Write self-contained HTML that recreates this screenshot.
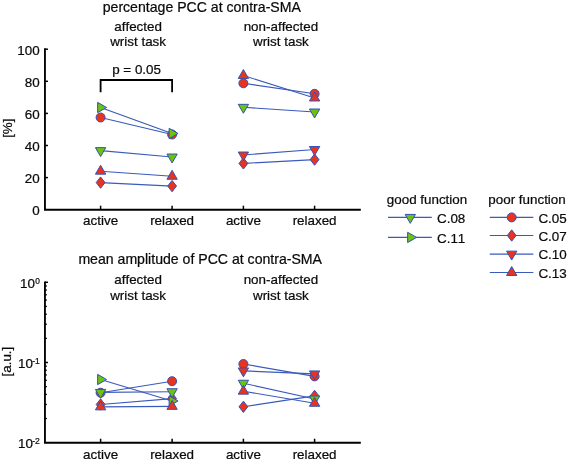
<!DOCTYPE html>
<html><head><meta charset="utf-8"><title>PCC at contra-SMA</title>
<style>
html,body{margin:0;padding:0;background:#fff;}
svg{display:block;font-family:"Liberation Sans",Arial,Helvetica,sans-serif;fill:#111;}
svg text{fill:#0a0a0a;stroke:#0a0a0a;stroke-width:0.22px;font-kerning:none;}
</style></head><body>
<svg width="568" height="463" viewBox="0 0 568 463">
<rect width="568" height="463" fill="#fff"/>
<path d="M44.95,48.2 V209.7 H360.8" fill="none" stroke="#000" stroke-width="1.85" stroke-linejoin="miter"/>
<line x1="100.60" y1="209.70" x2="100.60" y2="205.70" stroke="#000" stroke-width="1.5"/>
<line x1="172.10" y1="209.70" x2="172.10" y2="205.70" stroke="#000" stroke-width="1.5"/>
<line x1="243.40" y1="209.70" x2="243.40" y2="205.70" stroke="#000" stroke-width="1.5"/>
<line x1="314.60" y1="209.70" x2="314.60" y2="205.70" stroke="#000" stroke-width="1.5"/>
<text x="39.60" y="215.10" text-anchor="end" font-size="13.4" >0</text>
<line x1="44.95" y1="177.60" x2="47.95" y2="177.60" stroke="#000" stroke-width="1.5"/>
<text x="39.60" y="183.00" text-anchor="end" font-size="13.4" >20</text>
<line x1="44.95" y1="145.50" x2="47.95" y2="145.50" stroke="#000" stroke-width="1.5"/>
<text x="39.60" y="150.90" text-anchor="end" font-size="13.4" >40</text>
<line x1="44.95" y1="113.40" x2="47.95" y2="113.40" stroke="#000" stroke-width="1.5"/>
<text x="39.60" y="118.80" text-anchor="end" font-size="13.4" >60</text>
<line x1="44.95" y1="81.30" x2="47.95" y2="81.30" stroke="#000" stroke-width="1.5"/>
<text x="39.60" y="86.70" text-anchor="end" font-size="13.4" >80</text>
<line x1="44.95" y1="49.20" x2="47.95" y2="49.20" stroke="#000" stroke-width="1.5"/>
<text x="39.60" y="54.60" text-anchor="end" font-size="13.4" >100</text>
<text x="100.60" y="224.90" text-anchor="middle" font-size="13.4" >active</text>
<text x="172.10" y="224.90" text-anchor="middle" font-size="13.4" >relaxed</text>
<text x="243.40" y="224.90" text-anchor="middle" font-size="13.4" >active</text>
<text x="314.60" y="224.90" text-anchor="middle" font-size="13.4" >relaxed</text>
<text x="201.80" y="11.80" text-anchor="middle" font-size="14.1" >percentage PCC at contra-SMA</text>
<text x="138.10" y="30.50" text-anchor="middle" font-size="13.4" >affected</text>
<text x="138.10" y="46.30" text-anchor="middle" font-size="13.4" >wrist task</text>
<text x="280.90" y="30.50" text-anchor="middle" font-size="13.4" >non-affected</text>
<text x="280.90" y="46.30" text-anchor="middle" font-size="13.4" >wrist task</text>
<text x="136.60" y="74.00" text-anchor="middle" font-size="13.4" >p = 0.05</text>
<path d="M100.6,92.2 V80 H172.1 V92.2" fill="none" stroke="#000" stroke-width="1.8"/>
<text transform="translate(11.6,128.2) rotate(-90)" text-anchor="middle" font-size="13.4">[%]</text>
<line x1="100.60" y1="117.50" x2="172.10" y2="134.50" stroke="#3a5abc" stroke-width="1.15"/>
<circle cx="100.60" cy="117.50" r="4.5" fill="#e8341f" stroke="#3252b6" stroke-width="1"/>
<circle cx="172.10" cy="134.50" r="4.5" fill="#e8341f" stroke="#3252b6" stroke-width="1"/>
<line x1="100.60" y1="182.60" x2="172.10" y2="186.10" stroke="#3a5abc" stroke-width="1.15"/>
<polygon points="100.60,176.95 105.00,182.60 100.60,188.25 96.20,182.60" fill="#e8341f" stroke="#3252b6" stroke-width="1"/>
<polygon points="172.10,180.45 176.50,186.10 172.10,191.75 167.70,186.10" fill="#e8341f" stroke="#3252b6" stroke-width="1"/>
<line x1="100.60" y1="150.60" x2="172.10" y2="157.00" stroke="#3a5abc" stroke-width="1.15"/>
<polygon points="100.60,156.55 95.45,147.63 105.75,147.63" fill="#6cc40a" stroke="#3252b6" stroke-width="1" stroke-linejoin="miter"/>
<polygon points="172.10,162.95 166.95,154.03 177.25,154.03" fill="#6cc40a" stroke="#3252b6" stroke-width="1" stroke-linejoin="miter"/>
<line x1="100.60" y1="107.50" x2="172.10" y2="133.50" stroke="#3a5abc" stroke-width="1.15"/>
<polygon points="106.55,107.50 97.63,112.65 97.63,102.35" fill="#6cc40a" stroke="#3252b6" stroke-width="1" stroke-linejoin="miter"/>
<polygon points="178.05,133.50 169.13,138.65 169.13,128.35" fill="#6cc40a" stroke="#3252b6" stroke-width="1" stroke-linejoin="miter"/>
<line x1="100.60" y1="171.20" x2="172.10" y2="176.30" stroke="#3a5abc" stroke-width="1.15"/>
<polygon points="100.60,165.25 105.75,174.17 95.45,174.17" fill="#e8341f" stroke="#3252b6" stroke-width="1" stroke-linejoin="miter"/>
<polygon points="172.10,170.35 177.25,179.27 166.95,179.27" fill="#e8341f" stroke="#3252b6" stroke-width="1" stroke-linejoin="miter"/>
<line x1="243.40" y1="83.30" x2="314.60" y2="93.80" stroke="#3a5abc" stroke-width="1.15"/>
<circle cx="243.40" cy="83.30" r="4.5" fill="#e8341f" stroke="#3252b6" stroke-width="1"/>
<circle cx="314.60" cy="93.80" r="4.5" fill="#e8341f" stroke="#3252b6" stroke-width="1"/>
<line x1="243.40" y1="163.40" x2="314.60" y2="159.60" stroke="#3a5abc" stroke-width="1.15"/>
<polygon points="243.40,157.75 247.80,163.40 243.40,169.05 239.00,163.40" fill="#e8341f" stroke="#3252b6" stroke-width="1"/>
<polygon points="314.60,153.95 319.00,159.60 314.60,165.25 310.20,159.60" fill="#e8341f" stroke="#3252b6" stroke-width="1"/>
<line x1="243.40" y1="107.30" x2="314.60" y2="112.00" stroke="#3a5abc" stroke-width="1.15"/>
<polygon points="243.40,113.25 238.25,104.33 248.55,104.33" fill="#6cc40a" stroke="#3252b6" stroke-width="1" stroke-linejoin="miter"/>
<polygon points="314.60,117.95 309.45,109.03 319.75,109.03" fill="#6cc40a" stroke="#3252b6" stroke-width="1" stroke-linejoin="miter"/>
<line x1="243.40" y1="155.00" x2="314.60" y2="149.50" stroke="#3a5abc" stroke-width="1.15"/>
<polygon points="243.40,160.95 238.25,152.03 248.55,152.03" fill="#e8341f" stroke="#3252b6" stroke-width="1" stroke-linejoin="miter"/>
<polygon points="314.60,155.45 309.45,146.53 319.75,146.53" fill="#e8341f" stroke="#3252b6" stroke-width="1" stroke-linejoin="miter"/>
<line x1="243.40" y1="75.50" x2="314.60" y2="98.00" stroke="#3a5abc" stroke-width="1.15"/>
<polygon points="243.40,69.55 248.55,78.47 238.25,78.47" fill="#e8341f" stroke="#3252b6" stroke-width="1" stroke-linejoin="miter"/>
<polygon points="314.60,92.05 319.75,100.97 309.45,100.97" fill="#e8341f" stroke="#3252b6" stroke-width="1" stroke-linejoin="miter"/>
<path d="M44.95,281.6 V442.75 H360.8" fill="none" stroke="#000" stroke-width="1.85" stroke-linejoin="miter"/>
<line x1="100.60" y1="442.75" x2="100.60" y2="438.75" stroke="#000" stroke-width="1.5"/>
<line x1="172.10" y1="442.75" x2="172.10" y2="438.75" stroke="#000" stroke-width="1.5"/>
<line x1="243.40" y1="442.75" x2="243.40" y2="438.75" stroke="#000" stroke-width="1.5"/>
<line x1="314.60" y1="442.75" x2="314.60" y2="438.75" stroke="#000" stroke-width="1.5"/>
<line x1="44.95" y1="282.30" x2="47.95" y2="282.30" stroke="#000" stroke-width="1.5"/>
<text x="35.00" y="287.70" text-anchor="end" font-size="13.4" >10</text>
<text x="35.30" y="283.70" text-anchor="start" font-size="8.3" >0</text>
<line x1="44.95" y1="338.36" x2="46.85" y2="338.36" stroke="#000" stroke-width="1.3"/>
<line x1="44.95" y1="324.23" x2="46.85" y2="324.23" stroke="#000" stroke-width="1.3"/>
<line x1="44.95" y1="314.21" x2="46.85" y2="314.21" stroke="#000" stroke-width="1.3"/>
<line x1="44.95" y1="306.44" x2="46.85" y2="306.44" stroke="#000" stroke-width="1.3"/>
<line x1="44.95" y1="300.09" x2="46.85" y2="300.09" stroke="#000" stroke-width="1.3"/>
<line x1="44.95" y1="294.72" x2="46.85" y2="294.72" stroke="#000" stroke-width="1.3"/>
<line x1="44.95" y1="290.07" x2="46.85" y2="290.07" stroke="#000" stroke-width="1.3"/>
<line x1="44.95" y1="285.97" x2="46.85" y2="285.97" stroke="#000" stroke-width="1.3"/>
<line x1="44.95" y1="362.50" x2="47.95" y2="362.50" stroke="#000" stroke-width="1.5"/>
<text x="33.00" y="367.90" text-anchor="end" font-size="13.4" >10</text>
<text x="39.90" y="364.00" text-anchor="end" font-size="8.6" >-1</text>
<line x1="44.95" y1="418.56" x2="46.85" y2="418.56" stroke="#000" stroke-width="1.3"/>
<line x1="44.95" y1="404.43" x2="46.85" y2="404.43" stroke="#000" stroke-width="1.3"/>
<line x1="44.95" y1="394.41" x2="46.85" y2="394.41" stroke="#000" stroke-width="1.3"/>
<line x1="44.95" y1="386.64" x2="46.85" y2="386.64" stroke="#000" stroke-width="1.3"/>
<line x1="44.95" y1="380.29" x2="46.85" y2="380.29" stroke="#000" stroke-width="1.3"/>
<line x1="44.95" y1="374.92" x2="46.85" y2="374.92" stroke="#000" stroke-width="1.3"/>
<line x1="44.95" y1="370.27" x2="46.85" y2="370.27" stroke="#000" stroke-width="1.3"/>
<line x1="44.95" y1="366.17" x2="46.85" y2="366.17" stroke="#000" stroke-width="1.3"/>
<text x="33.00" y="448.10" text-anchor="end" font-size="13.4" >10</text>
<text x="39.90" y="444.20" text-anchor="end" font-size="8.6" >-2</text>
<text x="100.60" y="458.60" text-anchor="middle" font-size="13.4" >active</text>
<text x="172.10" y="458.60" text-anchor="middle" font-size="13.4" >relaxed</text>
<text x="243.40" y="458.60" text-anchor="middle" font-size="13.4" >active</text>
<text x="314.60" y="458.60" text-anchor="middle" font-size="13.4" >relaxed</text>
<text x="200.20" y="263.80" text-anchor="middle" font-size="14.1" >mean amplitude of PCC at contra-SMA</text>
<text x="138.10" y="284.00" text-anchor="middle" font-size="13.4" >affected</text>
<text x="138.10" y="300.00" text-anchor="middle" font-size="13.4" >wrist task</text>
<text x="280.90" y="284.00" text-anchor="middle" font-size="13.4" >non-affected</text>
<text x="280.90" y="300.00" text-anchor="middle" font-size="13.4" >wrist task</text>
<text transform="translate(11.3,361.6) rotate(-90)" text-anchor="middle" font-size="13.4">[a.u.]</text>
<line x1="100.60" y1="392.70" x2="172.10" y2="381.20" stroke="#3a5abc" stroke-width="1.15"/>
<circle cx="100.60" cy="392.70" r="4.5" fill="#e8341f" stroke="#3252b6" stroke-width="1"/>
<circle cx="172.10" cy="381.20" r="4.5" fill="#e8341f" stroke="#3252b6" stroke-width="1"/>
<line x1="100.60" y1="404.50" x2="172.10" y2="398.60" stroke="#3a5abc" stroke-width="1.15"/>
<polygon points="100.60,398.85 105.00,404.50 100.60,410.15 96.20,404.50" fill="#e8341f" stroke="#3252b6" stroke-width="1"/>
<polygon points="172.10,392.95 176.50,398.60 172.10,404.25 167.70,398.60" fill="#e8341f" stroke="#3252b6" stroke-width="1"/>
<line x1="100.60" y1="392.40" x2="172.10" y2="391.70" stroke="#3a5abc" stroke-width="1.15"/>
<polygon points="100.60,398.35 95.45,389.43 105.75,389.43" fill="#6cc40a" stroke="#3252b6" stroke-width="1" stroke-linejoin="miter"/>
<polygon points="172.10,397.65 166.95,388.73 177.25,388.73" fill="#6cc40a" stroke="#3252b6" stroke-width="1" stroke-linejoin="miter"/>
<line x1="100.60" y1="379.50" x2="172.10" y2="401.00" stroke="#3a5abc" stroke-width="1.15"/>
<polygon points="106.55,379.50 97.63,384.65 97.63,374.35" fill="#6cc40a" stroke="#3252b6" stroke-width="1" stroke-linejoin="miter"/>
<polygon points="178.05,401.00 169.13,406.15 169.13,395.85" fill="#6cc40a" stroke="#3252b6" stroke-width="1" stroke-linejoin="miter"/>
<line x1="100.60" y1="406.90" x2="172.10" y2="406.40" stroke="#3a5abc" stroke-width="1.15"/>
<polygon points="100.60,400.95 105.75,409.87 95.45,409.87" fill="#e8341f" stroke="#3252b6" stroke-width="1" stroke-linejoin="miter"/>
<polygon points="172.10,400.45 177.25,409.37 166.95,409.37" fill="#e8341f" stroke="#3252b6" stroke-width="1" stroke-linejoin="miter"/>
<line x1="243.40" y1="364.00" x2="314.60" y2="376.40" stroke="#3a5abc" stroke-width="1.15"/>
<circle cx="243.40" cy="364.00" r="4.5" fill="#e8341f" stroke="#3252b6" stroke-width="1"/>
<circle cx="314.60" cy="376.40" r="4.5" fill="#e8341f" stroke="#3252b6" stroke-width="1"/>
<line x1="243.40" y1="406.80" x2="314.60" y2="395.90" stroke="#3a5abc" stroke-width="1.15"/>
<polygon points="243.40,401.15 247.80,406.80 243.40,412.45 239.00,406.80" fill="#e8341f" stroke="#3252b6" stroke-width="1"/>
<polygon points="314.60,390.25 319.00,395.90 314.60,401.55 310.20,395.90" fill="#e8341f" stroke="#3252b6" stroke-width="1"/>
<line x1="243.40" y1="383.20" x2="314.60" y2="399.00" stroke="#3a5abc" stroke-width="1.15"/>
<polygon points="243.40,389.15 238.25,380.23 248.55,380.23" fill="#6cc40a" stroke="#3252b6" stroke-width="1" stroke-linejoin="miter"/>
<polygon points="314.60,404.95 309.45,396.03 319.75,396.03" fill="#6cc40a" stroke="#3252b6" stroke-width="1" stroke-linejoin="miter"/>
<line x1="243.40" y1="370.90" x2="314.60" y2="373.90" stroke="#3a5abc" stroke-width="1.15"/>
<polygon points="243.40,376.85 238.25,367.93 248.55,367.93" fill="#e8341f" stroke="#3252b6" stroke-width="1" stroke-linejoin="miter"/>
<polygon points="314.60,379.85 309.45,370.93 319.75,370.93" fill="#e8341f" stroke="#3252b6" stroke-width="1" stroke-linejoin="miter"/>
<line x1="243.40" y1="391.20" x2="314.60" y2="403.30" stroke="#3a5abc" stroke-width="1.15"/>
<polygon points="243.40,385.25 248.55,394.17 238.25,394.17" fill="#e8341f" stroke="#3252b6" stroke-width="1" stroke-linejoin="miter"/>
<polygon points="314.60,397.35 319.75,406.27 309.45,406.27" fill="#e8341f" stroke="#3252b6" stroke-width="1" stroke-linejoin="miter"/>
<text x="386.80" y="204.30" text-anchor="start" font-size="13.4" >good function</text>
<line x1="388.00" y1="217.40" x2="431.80" y2="217.40" stroke="#3a5abc" stroke-width="1.2"/>
<polygon points="410.30,223.35 405.15,214.43 415.45,214.43" fill="#6cc40a" stroke="#3252b6" stroke-width="1" stroke-linejoin="miter"/>
<text x="437.00" y="222.90" text-anchor="start" font-size="13.4" >C.08</text>
<line x1="388.00" y1="237.40" x2="431.80" y2="237.40" stroke="#3a5abc" stroke-width="1.2"/>
<polygon points="416.55,237.40 407.63,242.55 407.63,232.25" fill="#6cc40a" stroke="#3252b6" stroke-width="1" stroke-linejoin="miter"/>
<text x="437.00" y="242.90" text-anchor="start" font-size="13.4" >C.11</text>
<text x="488.30" y="204.30" text-anchor="start" font-size="13.4" >poor function</text>
<line x1="489.80" y1="217.40" x2="533.30" y2="217.40" stroke="#3a5abc" stroke-width="1.2"/>
<circle cx="511.70" cy="217.40" r="4.5" fill="#e8341f" stroke="#3252b6" stroke-width="1"/>
<text x="538.40" y="222.70" text-anchor="start" font-size="13.4" >C.05</text>
<line x1="489.80" y1="235.50" x2="533.30" y2="235.50" stroke="#3a5abc" stroke-width="1.2"/>
<polygon points="511.70,229.85 516.10,235.50 511.70,241.15 507.30,235.50" fill="#e8341f" stroke="#3252b6" stroke-width="1"/>
<text x="538.40" y="240.80" text-anchor="start" font-size="13.4" >C.07</text>
<line x1="489.80" y1="254.10" x2="533.30" y2="254.10" stroke="#3a5abc" stroke-width="1.2"/>
<polygon points="511.70,260.05 506.55,251.13 516.85,251.13" fill="#e8341f" stroke="#3252b6" stroke-width="1" stroke-linejoin="miter"/>
<text x="538.40" y="259.40" text-anchor="start" font-size="13.4" >C.10</text>
<line x1="489.80" y1="272.50" x2="533.30" y2="272.50" stroke="#3a5abc" stroke-width="1.2"/>
<polygon points="511.70,266.55 516.85,275.47 506.55,275.47" fill="#e8341f" stroke="#3252b6" stroke-width="1" stroke-linejoin="miter"/>
<text x="538.40" y="277.80" text-anchor="start" font-size="13.4" >C.13</text>
</svg>
</body></html>
